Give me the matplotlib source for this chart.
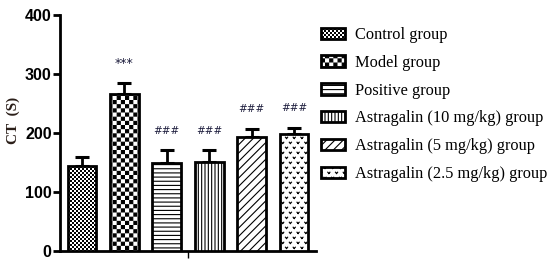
import numpy as np
import matplotlib
matplotlib.use('Agg')
import matplotlib.pyplot as plt
from matplotlib import hatch as mhatch
from matplotlib.path import Path
import warnings
warnings.filterwarnings('ignore')

# ---------------- data ----------------
groups = ['Control group', 'Model group', 'Positive group',
          'Astragalin (10 mg/kg) group', 'Astragalin (5 mg/kg) group',
          'Astragalin (2.5 mg/kg) group']
means = [144, 266, 149, 151, 193, 199]
errors = [15, 18, 22, 20, 14, 10]
marks = ['', '***', '###', '###', '###', '###']
yticks = [0, 100, 200, 300, 400]
ylabel = 'CT  (S)'

# ---------------- custom hatch patterns ----------------
HLW = 0.8  # hatch linewidth in points
plt.rcParams['hatch.linewidth'] = HLW


class CheckerHatch(mhatch.HatchPatternBase):
    def __init__(self, hatch, density):
        if hatch.count('k'):
            self.n = 50
        elif hatch.count('K'):
            self.n = 24
        else:
            self.n = 0
        self.num_vertices = (self.n * self.n // 2) * 5 if self.n else 0

    def set_vertices_and_codes(self, vertices, codes):
        n = self.n
        s = 1.0 / n
        sh = HLW * 100 / 72 / 2 / 100  # shrink by half the stroke width
        k = 0
        for i in range(n):
            for j in range(n):
                if (i + j) % 2 == 0:
                    x0, y0 = i * s + sh, j * s + sh
                    x1, y1 = (i + 1) * s - sh, (j + 1) * s - sh
                    vertices[k:k + 5] = [(x0, y0), (x1, y0), (x1, y1), (x0, y1), (x0, y0)]
                    codes[k:k + 5] = [Path.MOVETO, Path.LINETO, Path.LINETO,
                                      Path.LINETO, Path.CLOSEPOLY]
                    k += 5


class VHatch(mhatch.HatchPatternBase):
    def __init__(self, hatch, density):
        self.on = hatch.count('v') > 0
        self.cols, self.rows = 13, 20
        self.num_vertices = self.cols * self.rows * 4 if self.on else 0

    def set_vertices_and_codes(self, vertices, codes):
        k = 0
        a, b = 0.011, 0.013
        for r in range(self.rows):
            for c in range(self.cols):
                x = ((c + 0.5 * (r % 2) + 0.25) / self.cols) % 1.0
                y = (r + 0.3) / self.rows
                vertices[k:k + 4] = [(x - a, y + b), (x, y), (x, y), (x + a, y + b)]
                codes[k:k + 4] = [Path.MOVETO, Path.LINETO, Path.MOVETO, Path.LINETO]
                k += 4


mhatch._hatch_types.append(CheckerHatch)
mhatch._hatch_types.append(VHatch)

hatches = ['k', 'K', '----', '|||||', '////', 'v']

# ---------------- figure ----------------
W, H = 550, 265
fig = plt.figure(figsize=(W / 100, H / 100), dpi=100)
L, R, B, T = 60, 316, 251, 15
ax = fig.add_axes([L / W, 1 - B / H, (R - L) / W, (B - T) / H])

x = np.arange(len(groups))
bars = ax.bar(x, means, width=0.68, color='white', edgecolor='black',
              linewidth=2.0, hatch=hatches, zorder=3)
ax.errorbar(x, means, yerr=[np.zeros(len(means)), errors], fmt='none',
            ecolor='black', elinewidth=2.0, capsize=5, capthick=2.2, zorder=2)

for xi, m, e, s in zip(x, means, errors, marks):
    if s:
        ax.annotate(s, (xi, m + e), xytext=(0, 14), textcoords='offset points',
                    ha='center', va='center', fontsize=7.5 if s == '###' else 9,
                    color='#1c1c3c', family='DejaVu Sans')

ax.set_xlim(-0.52, 5.52)
ax.set_ylim(0, 400)
ax.set_yticks(yticks)
ax.set_yticklabels([str(t) for t in yticks], fontsize=11.5, fontweight='bold',
                   family='Liberation Sans')
ax.set_xticks([2.5])
ax.set_xticklabels([''])
ax.tick_params(axis='y', length=5, width=2, pad=1)
ax.tick_params(axis='x', length=5, width=1)
for sp in ['top', 'right']:
    ax.spines[sp].set_visible(False)
for sp in ['left', 'bottom']:
    ax.spines[sp].set_linewidth(2)

fig.text(13 / W, 1 - 120 / H, ylabel, rotation=90, ha='center', va='center',
         fontsize=11, fontweight='bold', family='Liberation Serif', color='#2a1e18')

fig.legend(bars, groups, loc='upper left',
           bbox_to_anchor=(321 / W, 1 - 27 / H), bbox_transform=fig.transFigure,
           frameon=False, prop={'family': 'Liberation Serif', 'size': 11.8},
           handlelength=1.45, handleheight=0.7, handletextpad=0.6,
           labelspacing=0.72, borderpad=0, borderaxespad=0)

fig.savefig('out.png', dpi=100)
